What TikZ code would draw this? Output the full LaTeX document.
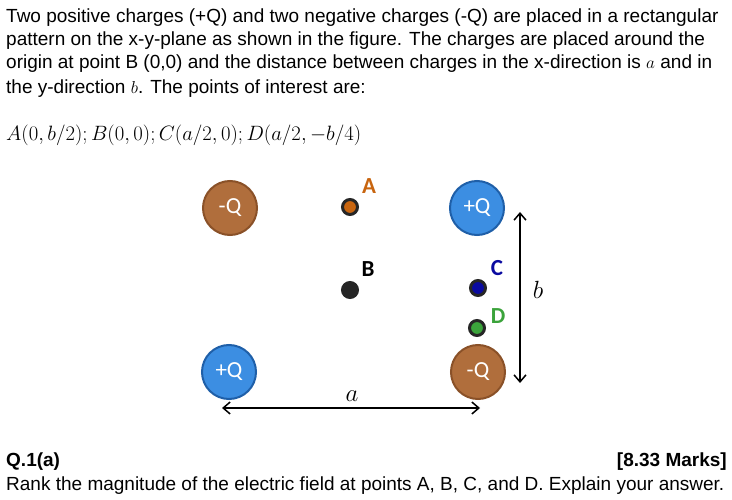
\documentclass[tikz,border=0pt]{standalone}
\usepackage{fontspec}
\setmainfont{Liberation Sans}
\newfontfamily\calib{Carlito}
\usetikzlibrary{arrows.meta}
\definecolor{negc}{HTML}{B06E3C}
\definecolor{negb}{HTML}{8A5128}
\definecolor{posc}{HTML}{3C8EE2}
\definecolor{posb}{HTML}{1F5FA8}
\definecolor{ca}{HTML}{C8650F}
\definecolor{cb}{HTML}{0A0AA0}
\definecolor{cd}{HTML}{3BA33B}
\tikzset{
 txt/.style={anchor=west,inner sep=0pt,font=\fontsize{19}{22}\selectfont},
 negq/.style={circle,fill=negc,draw=negb,line width=2pt,minimum size=54pt,inner sep=0pt,text=white,font=\calib\fontsize{23}{25}\selectfont},
 posq/.style={circle,fill=posc,draw=posb,line width=2pt,minimum size=54pt,inner sep=0pt,text=white,font=\calib\fontsize{23}{25}\selectfont},
 ptdot/.style={circle,draw=black!85,line width=3pt,minimum size=15pt,inner sep=0pt},
 lab/.style={font=\calib\bfseries\fontsize{23}{25}\selectfont,inner sep=0pt},
 dimarrow/.style={{Straight Barb[length=7pt,width=12pt]}-{Straight Barb[length=7pt,width=12pt]},line width=1.5pt}
}
\begin{document}
\begin{tikzpicture}[x=1pt,y=-1pt]
\useasboundingbox (0,0) rectangle (732,500);
\node[txt] (l1) at (6,18) {Two positive charges (+Q) and two negative charges (-Q) are placed in a rectangular};
\node[txt] (l2) at (6,41) {pattern on the x-y-plane as shown in the figure. The charges are placed around the};
\node[txt] (l3) at (6,64) {origin at point B (0,0) and the distance between charges in the x-direction is $a$ and in};
\node[txt] (l4) at (6,89) {the y-direction $b$. The points of interest are:};
\node[txt,font=\fontsize{20.5}{22}\selectfont] (l5) at (6,135) {$A(0,b/2); B(0,0); C(a/2,0); D(a/2,-b/4)$};
\node[negq] (q1) at (230,208) {-Q};
\node[posq] (q2) at (477,208) {+Q};
\node[posq] (q3) at (229,372) {+Q};
\node[negq] (q4) at (478,372) {-Q};
\node[ptdot,fill=ca] (A) at (350,207) {};
\node[ptdot,fill=black!85] (B) at (350,290) {};
\node[ptdot,fill=cb] (C) at (478,288) {};
\node[ptdot,fill=cd] (D) at (477,328) {};
\node[lab,text=ca] (la) at (369,186) {A};
\node[lab] (lb) at (368,269) {B};
\node[lab,text=cb] (lc) at (497,268) {C};
\node[lab,text=cd] (ld) at (498,316) {D};
\coordinate (v1) at (520,212); \coordinate (v2) at (520,383);
\draw[dimarrow] (v1) -- (v2);
\node[font=\fontsize{27}{27}\selectfont] (bb) at (538,290) {$b$};
\coordinate (h1) at (222,408); \coordinate (h2) at (480,408);
\draw[dimarrow] (h1) -- (h2);
\node[font=\fontsize{27}{27}\selectfont] (aa) at (352,396) {$a$};
\node[txt,font=\bfseries\fontsize{19}{22}\selectfont] (q) at (6,462) {Q.1(a)};
\node[txt,anchor=east,font=\bfseries\fontsize{19}{22}\selectfont] (mk) at (727,462) {[8.33 Marks]};
\node[txt] (l6) at (6,486) {Rank the magnitude of the electric field at points A, B, C, and D. Explain your answer.};
\end{tikzpicture}
\end{document}
